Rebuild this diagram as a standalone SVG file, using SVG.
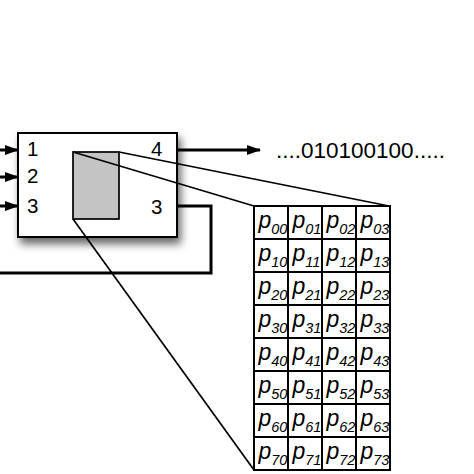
<svg xmlns="http://www.w3.org/2000/svg" width="474" height="474" viewBox="0 0 474 474">
<style>
.lbl{font-family:"Liberation Sans",Arial,sans-serif;font-size:20.5px;fill:#000}
.bits{font-family:"Liberation Sans",Arial,sans-serif;font-size:22.5px;fill:#000}
.p{font-family:"Liberation Sans",Arial,sans-serif;font-style:italic;font-size:23px;fill:#000}
.s{font-size:14.5px}
.thick{stroke:#000;stroke-width:3;fill:none}
.thin{stroke:#000;stroke-width:1.7;fill:none}
.cell{fill:#fff;stroke:#000;stroke-width:2}
</style>
<defs>
<filter id="sh" x="-20%" y="-20%" width="150%" height="160%">
<feDropShadow dx="3" dy="6" stdDeviation="4" flood-color="#000" flood-opacity="0.6"/>
</filter>
<filter id="blur"><feGaussianBlur stdDeviation="5"/></filter>
<marker id="ah" markerWidth="14" markerHeight="10" refX="13" refY="5" orient="auto" markerUnits="userSpaceOnUse">
<path d="M0,0 L14,5 L0,10 Z" fill="#000"/>
</marker>
</defs>
<rect width="474" height="474" fill="#fff"/>
<rect x="479" y="142" width="40" height="55" fill="#000" opacity="0.25" filter="url(#blur)"/>

<g id="block">
<rect x="18" y="133" width="159" height="104" fill="#fff" stroke="#000" stroke-width="2" filter="url(#sh)"/>
<text class="lbl" x="27" y="156">1</text>
<text class="lbl" x="27" y="183">2</text>
<text class="lbl" x="27" y="213">3</text>
<text class="lbl" x="151" y="156">4</text>
<text class="lbl" x="151" y="214">3</text>
<rect x="73" y="152" width="46" height="67" fill="#c4c4c4" stroke="#000" stroke-width="1.7"/>
</g>

<g id="connectors">
<line class="thick" x1="0" y1="150" x2="18" y2="150" marker-end="url(#ah)"/>
<line class="thick" x1="0" y1="177" x2="18" y2="177" marker-end="url(#ah)"/>
<line class="thick" x1="0" y1="206" x2="18" y2="206" marker-end="url(#ah)"/>
<line class="thick" x1="177" y1="150" x2="260" y2="150" marker-end="url(#ah)"/>
<polyline class="thick" points="177,206 211,206 211,273 0,273"/>
<line class="thin" x1="73" y1="152" x2="254" y2="206"/>
<line class="thin" x1="119" y1="152" x2="389" y2="206"/>
<line class="thin" x1="73" y1="219" x2="254" y2="470"/>
</g>

<text id="bits" class="bits" x="276" y="158">....010100100.....</text>

<g id="grid">
<g id="r0" transform="translate(254,206)">
<rect class="cell" x="0" y="0" width="34" height="33"/><rect class="cell" x="34" y="0" width="34" height="33"/><rect class="cell" x="68" y="0" width="34" height="33"/><rect class="cell" x="102" y="0" width="34" height="33"/>
<text class="p" x="4.5" y="22">p<tspan class="s" dy="6">00</tspan></text>
<text class="p" x="38.5" y="22">p<tspan class="s" dy="6">01</tspan></text>
<text class="p" x="72.5" y="22">p<tspan class="s" dy="6">02</tspan></text>
<text class="p" x="106.5" y="22">p<tspan class="s" dy="6">03</tspan></text>
</g>
<g id="r1" transform="translate(254,239)">
<rect class="cell" x="0" y="0" width="34" height="33"/><rect class="cell" x="34" y="0" width="34" height="33"/><rect class="cell" x="68" y="0" width="34" height="33"/><rect class="cell" x="102" y="0" width="34" height="33"/>
<text class="p" x="4.5" y="22">p<tspan class="s" dy="6">10</tspan></text>
<text class="p" x="38.5" y="22">p<tspan class="s" dy="6">11</tspan></text>
<text class="p" x="72.5" y="22">p<tspan class="s" dy="6">12</tspan></text>
<text class="p" x="106.5" y="22">p<tspan class="s" dy="6">13</tspan></text>
</g>
<g id="r2" transform="translate(254,272)">
<rect class="cell" x="0" y="0" width="34" height="33"/><rect class="cell" x="34" y="0" width="34" height="33"/><rect class="cell" x="68" y="0" width="34" height="33"/><rect class="cell" x="102" y="0" width="34" height="33"/>
<text class="p" x="4.5" y="22">p<tspan class="s" dy="6">20</tspan></text>
<text class="p" x="38.5" y="22">p<tspan class="s" dy="6">21</tspan></text>
<text class="p" x="72.5" y="22">p<tspan class="s" dy="6">22</tspan></text>
<text class="p" x="106.5" y="22">p<tspan class="s" dy="6">23</tspan></text>
</g>
<g id="r3" transform="translate(254,305)">
<rect class="cell" x="0" y="0" width="34" height="33"/><rect class="cell" x="34" y="0" width="34" height="33"/><rect class="cell" x="68" y="0" width="34" height="33"/><rect class="cell" x="102" y="0" width="34" height="33"/>
<text class="p" x="4.5" y="22">p<tspan class="s" dy="6">30</tspan></text>
<text class="p" x="38.5" y="22">p<tspan class="s" dy="6">31</tspan></text>
<text class="p" x="72.5" y="22">p<tspan class="s" dy="6">32</tspan></text>
<text class="p" x="106.5" y="22">p<tspan class="s" dy="6">33</tspan></text>
</g>
<g id="r4" transform="translate(254,338)">
<rect class="cell" x="0" y="0" width="34" height="33"/><rect class="cell" x="34" y="0" width="34" height="33"/><rect class="cell" x="68" y="0" width="34" height="33"/><rect class="cell" x="102" y="0" width="34" height="33"/>
<text class="p" x="4.5" y="22">p<tspan class="s" dy="6">40</tspan></text>
<text class="p" x="38.5" y="22">p<tspan class="s" dy="6">41</tspan></text>
<text class="p" x="72.5" y="22">p<tspan class="s" dy="6">42</tspan></text>
<text class="p" x="106.5" y="22">p<tspan class="s" dy="6">43</tspan></text>
</g>
<g id="r5" transform="translate(254,371)">
<rect class="cell" x="0" y="0" width="34" height="33"/><rect class="cell" x="34" y="0" width="34" height="33"/><rect class="cell" x="68" y="0" width="34" height="33"/><rect class="cell" x="102" y="0" width="34" height="33"/>
<text class="p" x="4.5" y="22">p<tspan class="s" dy="6">50</tspan></text>
<text class="p" x="38.5" y="22">p<tspan class="s" dy="6">51</tspan></text>
<text class="p" x="72.5" y="22">p<tspan class="s" dy="6">52</tspan></text>
<text class="p" x="106.5" y="22">p<tspan class="s" dy="6">53</tspan></text>
</g>
<g id="r6" transform="translate(254,404)">
<rect class="cell" x="0" y="0" width="34" height="33"/><rect class="cell" x="34" y="0" width="34" height="33"/><rect class="cell" x="68" y="0" width="34" height="33"/><rect class="cell" x="102" y="0" width="34" height="33"/>
<text class="p" x="4.5" y="22">p<tspan class="s" dy="6">60</tspan></text>
<text class="p" x="38.5" y="22">p<tspan class="s" dy="6">61</tspan></text>
<text class="p" x="72.5" y="22">p<tspan class="s" dy="6">62</tspan></text>
<text class="p" x="106.5" y="22">p<tspan class="s" dy="6">63</tspan></text>
</g>
<g id="r7" transform="translate(254,437)">
<rect class="cell" x="0" y="0" width="34" height="33"/><rect class="cell" x="34" y="0" width="34" height="33"/><rect class="cell" x="68" y="0" width="34" height="33"/><rect class="cell" x="102" y="0" width="34" height="33"/>
<text class="p" x="4.5" y="22">p<tspan class="s" dy="6">70</tspan></text>
<text class="p" x="38.5" y="22">p<tspan class="s" dy="6">71</tspan></text>
<text class="p" x="72.5" y="22">p<tspan class="s" dy="6">72</tspan></text>
<text class="p" x="106.5" y="22">p<tspan class="s" dy="6">73</tspan></text>
</g>
</g>
</svg>
